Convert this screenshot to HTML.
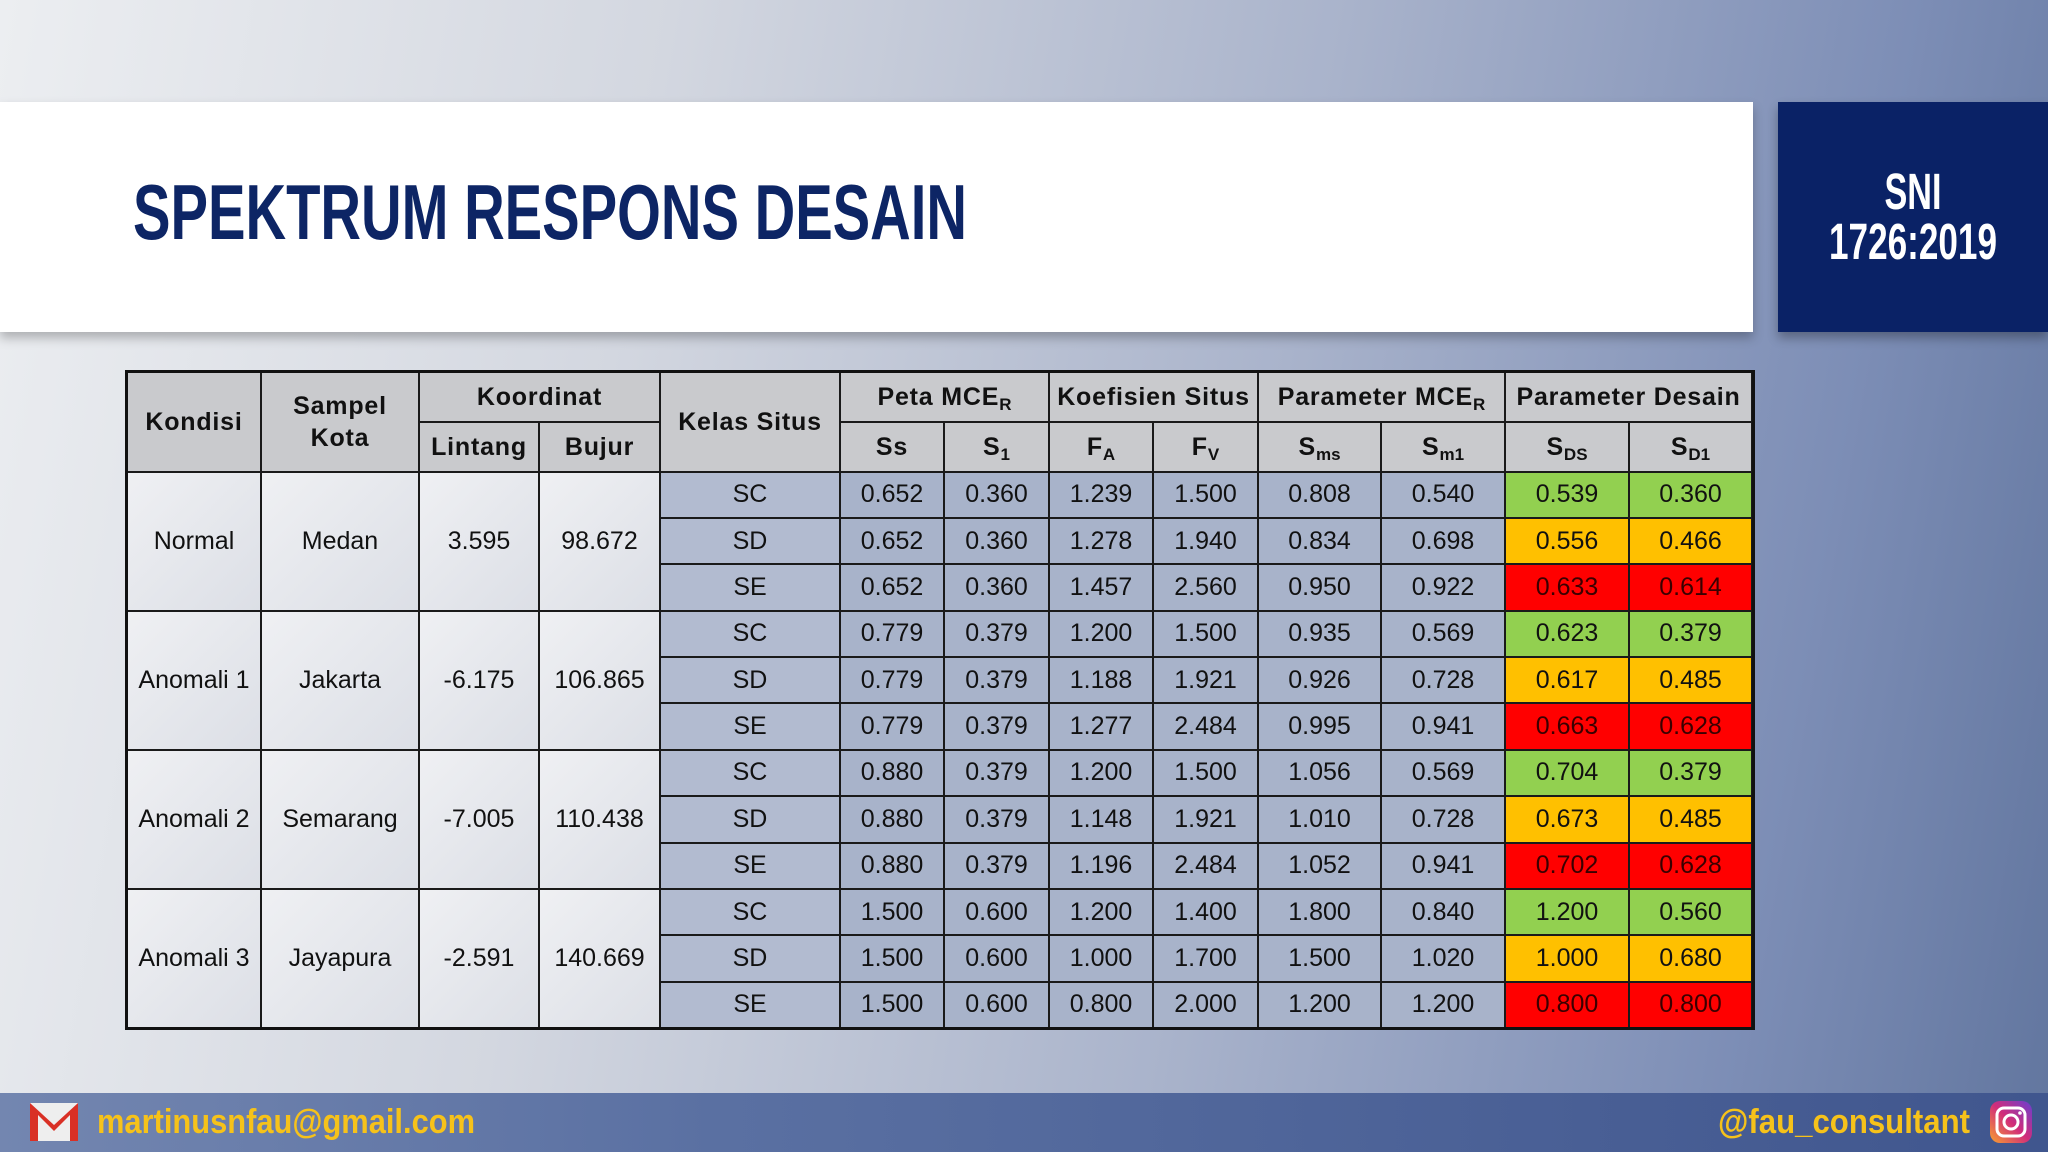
<!DOCTYPE html>
<html><head><meta charset="utf-8">
<style>
html,body{margin:0;padding:0}
body{width:2048px;height:1152px;position:relative;overflow:hidden;font-family:"Liberation Sans",Arial,sans-serif;
background:linear-gradient(100deg,#eceef1 0%,#d3d7e0 30%,#a9b3cb 60%,#7d8eb6 85%,#62769f 100%);}
.banner{position:absolute;left:0;top:102px;width:1753px;height:230px;background:#fff;box-shadow:0 6px 10px rgba(0,0,0,.25)}
.sni{position:absolute;left:1778px;top:102px;width:270px;height:230px;background:#0a2266;box-shadow:0 6px 10px rgba(0,0,0,.3)}
.cell{position:absolute;box-sizing:border-box;display:flex;align-items:center;justify-content:center;text-align:center;font-size:25px;color:#111;border:1.5px solid #1a1a1a}
.hd{background:#c9cacd;font-weight:bold;line-height:32px;letter-spacing:0.8px}
.lt{background:linear-gradient(135deg,#eff0f3,#dcdfe6)}
.bl{background:#a8b3ca}
.kl{background:#b2bbd0}
.g{background:#92d050}.y{background:#ffc000}.r{background:#ff0000;color:#3a0000}
sub{font-size:17px;vertical-align:-5px;letter-spacing:0;line-height:0}
.footer{position:absolute;left:0;top:1093px;width:2048px;height:59px;background:linear-gradient(90deg,#7386b0 0%,#5a70a2 35%,#40568e 100%)}
</style></head><body>
<div class="banner"></div>
<svg style="position:absolute;left:0;top:0" width="2048" height="340">
<text x="133" y="239" textLength="834" lengthAdjust="spacingAndGlyphs" font-family="Liberation Sans Narrow, Liberation Sans, sans-serif" font-weight="bold" font-size="78" fill="#0d2565">SPEKTRUM RESPONS DESAIN</text>
</svg>
<div class="sni"></div>
<svg style="position:absolute;left:1778px;top:102px" width="270" height="230">
<text x="135" y="107" text-anchor="middle" textLength="57" lengthAdjust="spacingAndGlyphs" font-family="Liberation Sans Narrow, Liberation Sans, sans-serif" font-weight="bold" font-size="51" fill="#fff">SNI</text>
<text x="135" y="157" text-anchor="middle" textLength="168" lengthAdjust="spacingAndGlyphs" font-family="Liberation Sans Narrow, Liberation Sans, sans-serif" font-weight="bold" font-size="51" fill="#fff">1726:2019</text>
</svg>
<div id="tbl" style="position:absolute;left:0;top:0;width:2048px;height:1152px;"></div>
<div style="position:absolute;left:125px;top:370px;width:1630px;height:660px;border:3px solid #111;box-sizing:border-box;pointer-events:none"></div>
<div class="footer"></div>
<svg style="position:absolute;left:0;top:1093px" width="2048" height="59">
<g><rect x="30" y="10" width="48" height="38" fill="#eee"/><path d="M30 10 L54 32 L78 10 L78 48 L70 48 L70 22 L54 38 L38 22 L38 48 L30 48Z" fill="#d93025"/></g>
<text x="97" y="40" textLength="378" lengthAdjust="spacingAndGlyphs" font-family="Liberation Sans Narrow, Liberation Sans, sans-serif" font-weight="bold" font-size="34" fill="#f6c21a">martinusnfau@gmail.com</text>
<text x="1718" y="40" textLength="252" lengthAdjust="spacingAndGlyphs" font-family="Liberation Sans Narrow, Liberation Sans, sans-serif" font-weight="bold" font-size="34" fill="#f6c21a">@fau_consultant</text>
<defs><linearGradient id="ig" x1="0" y1="1" x2="1" y2="0"><stop offset="0" stop-color="#f9a12e"/><stop offset=".5" stop-color="#d12d7a"/><stop offset="1" stop-color="#6a3fd1"/></linearGradient></defs>
<g><rect x="1990" y="8" width="42" height="42" rx="10" fill="url(#ig)"/><rect x="1997" y="15" width="28" height="28" rx="7" fill="none" stroke="#fff" stroke-width="3"/><circle cx="2011" cy="29" r="7" fill="none" stroke="#fff" stroke-width="3"/><circle cx="2020" cy="20" r="1.8" fill="#fff"/></g>
</svg>
<script>
var conditions=["Normal","Anomali 1","Anomali 2","Anomali 3"];
var cities=["Medan","Jakarta","Semarang","Jayapura"];
var lintang=["3.595","-6.175","-7.005","-2.591"];
var bujur=["98.672","106.865","110.438","140.669"];
var kelas=["SC","SD","SE"];
var ssVals=["0.652","0.652","0.652","0.779","0.779","0.779","0.880","0.880","0.880","1.500","1.500","1.500"];
var s1Vals=["0.360","0.360","0.360","0.379","0.379","0.379","0.379","0.379","0.379","0.600","0.600","0.600"];
var faVals=["1.239","1.278","1.457","1.200","1.188","1.277","1.200","1.148","1.196","1.200","1.000","0.800"];
var fvVals=["1.500","1.940","2.560","1.500","1.921","2.484","1.500","1.921","2.484","1.400","1.700","2.000"];
var smsVals=["0.808","0.834","0.950","0.935","0.926","0.995","1.056","1.010","1.052","1.800","1.500","1.200"];
var sm1Vals=["0.540","0.698","0.922","0.569","0.728","0.941","0.569","0.728","0.941","0.840","1.020","1.200"];
var sdsVals=["0.539","0.556","0.633","0.623","0.617","0.663","0.704","0.673","0.702","1.200","1.000","0.800"];
var sd1Vals=["0.360","0.466","0.614","0.379","0.485","0.628","0.379","0.485","0.628","0.560","0.680","0.800"];

var X=[127,261,419,539,660,840,944,1049,1153,1258,1381,1505,1629,1752];
var H0=372,H1=422,H2=471.5,RH=(1028-471.5)/12;
var root=document.getElementById('tbl');
function cell(x0,x1,y0,y1,html,cls,name){
  var d=document.createElement('div');
  d.className='cell '+cls;
  d.style.left=x0+'px';d.style.top=y0+'px';d.style.width=(x1-x0)+'px';d.style.height=(y1-y0)+'px';
  d.innerHTML='<span>'+html+'</span>';
  
  
  root.appendChild(d);
}
cell(X[0],X[1],H0,H2,'Kondisi','hd','header-kondisi');
cell(X[1],X[2],H0,H2,'Sampel<br>Kota','hd','header-sampel-kota');
cell(X[2],X[4],H0,H1,'Koordinat','hd','header-koordinat');
cell(X[2],X[3],H1,H2,'Lintang','hd','header-lintang');
cell(X[3],X[4],H1,H2,'Bujur','hd','header-bujur');
cell(X[4],X[5],H0,H2,'Kelas Situs','hd','header-kelas-situs');
cell(X[5],X[7],H0,H1,'Peta MCE<sub>R</sub>','hd','header-peta-mce');
cell(X[7],X[9],H0,H1,'Koefisien Situs','hd','header-koefisien-situs');
cell(X[9],X[11],H0,H1,'Parameter MCE<sub>R</sub>','hd','header-parameter-mce');
cell(X[11],X[13],H0,H1,'Parameter Desain','hd','header-parameter-desain');
var subs=['Ss','S<sub>1</sub>','F<sub>A</sub>','F<sub>V</sub>','S<sub>ms</sub>','S<sub>m1</sub>','S<sub>DS</sub>','S<sub>D1</sub>'];
var subNames=['ss','s1','fa','fv','sms','sm1','sds','sd1'];
for(var i=0;i<8;i++) cell(X[5+i],X[6+i],H1,H2,subs[i],'hd','header-'+subNames[i]);
var cols=[ssVals,s1Vals,faVals,fvVals,smsVals,sm1Vals,sdsVals,sd1Vals];
var colorCls=['g','y','r'];
for(var g=0;g<conditions.length;g++){
  var y0=H2+g*3*RH,y1=y0+3*RH;
  cell(X[0],X[1],y0,y1,conditions[g],'lt','kondisi-'+g);
  cell(X[1],X[2],y0,y1,cities[g],'lt','kota-'+g);
  cell(X[2],X[3],y0,y1,lintang[g],'lt','lintang-'+g);
  cell(X[3],X[4],y0,y1,bujur[g],'lt','bujur-'+g);
  for(var k=0;k<3;k++){
    var r=g*3+k,ry=H2+r*RH;
    cell(X[4],X[5],ry,ry+RH,kelas[k],'kl','kelas-'+r);
    for(var c=0;c<8;c++){
      cell(X[5+c],X[6+c],ry,ry+RH,cols[c][r],c>=6?colorCls[k]:'bl','value-'+subNames[c]+'-'+r);
    }
  }
}
</script>
</body></html>
